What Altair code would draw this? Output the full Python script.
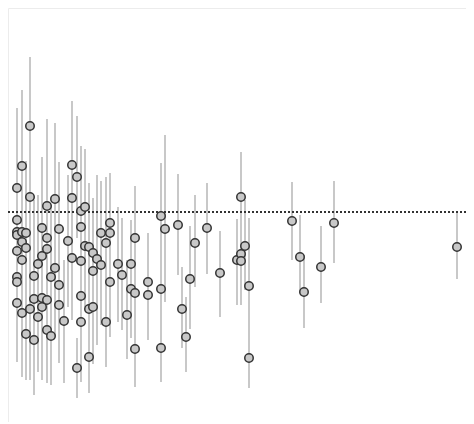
import altair as alt
import pandas as pd

xs = [15, 15, 15, 15, 15, 15, 15, 15,
      20, 20, 20, 20, 20,
      24, 24, 24,
      28, 28, 28,
      32, 32, 32,
      36, 36,
      40, 40, 40, 40,
      45, 45, 45, 45, 45,
      49, 49,
      53, 53,
      57, 57, 57,
      62, 66,
      70, 70, 70,
      75, 75,
      79, 79, 79, 79, 79,
      83, 83,
      87, 87, 87,
      91, 91, 91,
      95,
      99, 99,
      104, 104,
      108, 108, 108,
      116, 120, 125,
      129, 129,
      133, 133, 133,
      146, 146,
      159, 159, 159,
      163, 176, 180, 184, 188, 193, 205, 218, 235,
      239, 239, 239, 243, 247, 247,
      290, 298, 302, 319, 332, 455]

ys = [0.24, -0.08, -0.20, -0.23, -0.39, -0.65, -0.70, -0.91,
      0.46, -0.20, -0.30, -0.48, -1.01,
      -0.21, -0.36, -1.22,
      0.86, 0.15, -0.97,
      -0.64, -0.87, -1.28,
      -0.52, -1.05,
      -0.16, -0.44, -0.86, -0.95,
      0.06, -0.26, -0.37, -0.88, -1.18,
      -0.65, -1.24,
      0.13, -0.56,
      -0.17, -0.73, -0.93,
      -1.09, -0.29,
      0.47, 0.14, -0.46,
      0.35, -1.56,
      0.01, -0.15, -0.49, -0.84, -1.10,
      0.05, -0.34,
      -0.35, -0.97, -1.45,
      -0.41, -0.59, -0.95,
      -0.47,
      -0.21, -0.53,
      -0.31, -1.10,
      -0.11, -0.21, -0.70,
      -0.52, -0.63, -1.03,
      -0.52, -0.77,
      -0.26, -0.81, -1.37,
      -0.70, -0.83,
      -0.04, -0.77, -1.36,
      -0.17, -0.13, -0.97, -1.25, -0.67, -0.31, -0.16, -0.61, -0.48,
      0.15, -0.42, -0.49, -0.34, -0.74, -1.46,
      -0.09, -0.45, -0.80, -0.55, -0.11, -0.35]

lo = [-0.56, -0.86, -0.98, -1.00, -1.18, -1.44, -1.50, -1.50,
      -0.30, -0.94, -1.06, -1.23, -1.65,
      -0.93, -1.10, -1.68,
      0.17, -0.58, -1.68,
      -1.40, -1.60, -1.83,
      -1.23, -1.60,
      -0.86, -1.13, -1.54, -1.68,
      -0.81, -0.96, -1.08, -1.53, -1.71,
      -1.38, -1.73,
      -0.63, -1.24,
      -0.84, -1.38, -1.51,
      -1.71, -0.95,
      -0.17, -0.50, -1.08,
      -0.26, -1.86,
      -0.64, -0.80, -1.12, -1.45, -1.70,
      -0.53, -0.95,
      -0.98, -1.56, -1.81,
      -0.98, -1.20, -1.52,
      -1.33,
      -0.78, -1.13,
      -0.93, -1.55,
      -0.63, -0.76, -1.25,
      -1.10, -1.18, -1.47,
      -0.98, -1.26,
      -0.80, -1.28, -1.75,
      -1.18, -1.28,
      -0.58, -1.26, -1.70,
      -0.90, -0.63, -1.36, -1.60, -1.17, -0.75, -0.62, -1.05, -0.93,
      -0.30, -0.88, -0.93, -0.78, -1.42, -1.76,
      -0.48, -0.81, -1.16, -0.91, -0.51, -0.67]

hi = [1.04, 0.70, 0.57, 0.52, 0.37, 0.14, 0.07, -0.28,
      1.22, 0.54, 0.47, 0.27, -0.38,
      0.51, 0.37, -0.78,
      1.55, 0.87, -0.28,
      0.12, -0.13, -0.73,
      0.17, -0.43,
      0.55, 0.27, -0.18, -0.28,
      0.93, 0.44, 0.34, -0.23, -0.63,
      0.07, -0.73,
      0.89, 0.12,
      0.50, -0.08, -0.28,
      -0.48, 0.37,
      1.11, 0.77, 0.17,
      0.96, -1.26,
      0.66, 0.52, 0.14, -0.23, -0.50,
      0.63, 0.27,
      0.29, -0.38, -1.08,
      0.14, 0.02, -0.38,
      0.37,
      0.31, 0.07,
      0.35, -0.58,
      0.39, 0.32, -0.18,
      0.05, -0.06, -0.48,
      -0.08, -0.28,
      0.26, -0.33, -0.98,
      -0.21, -0.38,
      0.49, -0.28, -0.98,
      0.77, 0.38, -0.55, -0.85, -0.14, 0.17, 0.29, -0.19, -0.07,
      0.60, 0.02, -0.03, 0.12, -0.06, -1.16,
      0.30, -0.03, -0.43, -0.14, 0.31, -0.01]

reference_value = [0]

df = pd.DataFrame({"x": xs, "y": ys, "lo": lo, "hi": hi})
ref = pd.DataFrame({"r": reference_value})

xscale = alt.Scale(domain=[6, 464], nice=False, zero=False)
yscale = alt.Scale(domain=[-2.10, 2.04], nice=False, zero=False)

bars = alt.Chart(df).mark_rule(color="#c8c8c8", strokeWidth=2).encode(
    x=alt.X("x:Q", scale=xscale, axis=None),
    y=alt.Y("lo:Q", scale=yscale, axis=None),
    y2="hi:Q",
)

line = alt.Chart(ref).mark_rule(color="#333333", strokeWidth=2, strokeDash=[2, 2]).encode(
    y=alt.Y("r:Q", scale=yscale, axis=None),
)

pts = alt.Chart(df).mark_point(
    shape="circle", filled=True, fill="#c8c8c8", stroke="#333333",
    strokeWidth=1.5, size=72, opacity=1
).encode(
    x=alt.X("x:Q", scale=xscale, axis=None),
    y=alt.Y("y:Q", scale=yscale, axis=None),
)

chart = alt.layer(bars, line, pts).properties(
    width=458, height=414,
    autosize=alt.AutoSizeParams(type="none"),
    padding=0,
).configure_view(stroke="#ececec", strokeWidth=1)

chart.save("out.html", embed_options={"renderer": "svg", "actions": False})
